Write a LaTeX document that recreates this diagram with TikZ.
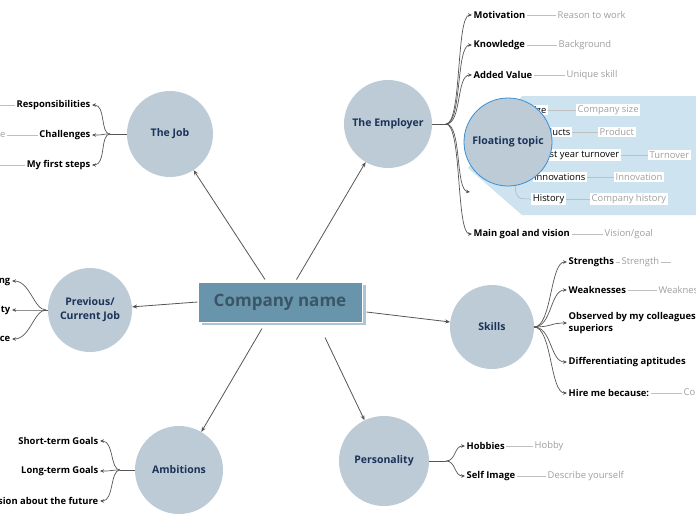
\documentclass[tikz,border=0pt]{standalone}
\usepackage{fontspec}
\setmainfont{Open Sans}
\usetikzlibrary{arrows.meta}
\definecolor{topicfill}{HTML}{BCCBD6}
\definecolor{topictext}{HTML}{1B3358}
\definecolor{centerfill}{HTML}{6895AC}
\definecolor{centertext}{HTML}{3A5566}
\definecolor{floatbg}{HTML}{CDE3EF}
\definecolor{floatline}{HTML}{3A8FD4}
\definecolor{linkgray}{HTML}{555555}
\tikzset{
  topic/.style={circle, fill=topicfill, minimum size=88pt, inner sep=0pt, align=center,
    text=topictext, font=\fontsize{10.5}{14}\selectfont\bfseries},
  subtopic/.style={inner sep=1.5pt, font=\fontsize{9.4}{11.5}\selectfont\bfseries, align=left},
  detail/.style={inner sep=1.5pt, fill=white, text=gray!75, font=\fontsize{9.4}{11.5}\selectfont},
  link/.style={draw=linkgray, line width=0.8pt, -{Stealth[length=5pt,width=4pt]}},
  branch/.style={draw=linkgray, line width=0.7pt, -{Stealth[length=4pt,width=3.5pt]}},
  note/.style={draw=gray!50, line width=0.6pt}
}
\begin{document}
\begin{tikzpicture}[x=1pt,y=-1pt]
    \useasboundingbox (0,0) rectangle (696,520);
    \clip (0,0) rectangle (696,520);

    % -- Main topics
    \fill[centerfill!55] (202,285) rectangle (366,325);
    \node[fill=centerfill, draw=white, line width=1pt, minimum width=164pt, minimum height=40pt,
      text=centertext, font=\fontsize{17}{20}\selectfont\bfseries] (C) at (280,302) {Company name};
    \node[topic] (E) at (388,124) {The Employer};
    \node[topic, minimum size=86pt] (J) at (170,134) {The Job};
    \node[topic, minimum size=84pt] (P) at (90,310) {Previous/\\Current Job};
    \node[topic, minimum size=84pt] (S) at (492,327) {Skills};
    \node[topic, minimum size=90pt] (Y) at (384,461) {Personality};
    \node[topic] (A) at (179,470) {Ambitions};

    \draw[link] (C.north east) ++(-66,-2) coordinate (c1) (c1) -- (E);
    \draw[link] (C.north) ++(-15,-2) coordinate (c2) (c2) -- (J);
    \draw[link] (C.west) -- (P);
    \draw[link] (C.east) ++(4,10) coordinate (c3) (c3) -- (S);
    \draw[link] (C.south) ++(45,15) coordinate (c4) (c4) -- (Y);
    \draw[link] (C.south) ++(-18,6) coordinate (c5) (c5) -- (A);

    % -- The Employer
    \coordinate (ej) at (446,124);
    \draw[draw=linkgray, line width=1pt] (E.east) -- (ej);
    \foreach \n/\t/\y/\d/\dx in {m/Motivation/15/Reason to work/556, k/Knowledge/45/Background/557,
        a/Added Value/75/Unique skill/565, g/Main goal and vision/234/Vision\slash goal/603} {
      \node[subtopic, anchor=west] (e\n) at (472,\y) {\t};
      \node[detail, anchor=west] (ed\n) at (\dx,\y) {\d};
      \draw[note] (e\n) -- (ed\n);
      \draw[branch] (ej) .. controls (462,124) and (456,\y) .. (e\n.west);
    }
    \draw[branch] (ej) .. controls (462,124) and (455,190) .. (470,192);

    % -- Floating topic
    \fill[floatbg] (522,96) -- (696,96) -- (696,215) -- (522,215) -- (468,168) -- cycle;
    \foreach \n/\t/\xe/\y/\d/\dx in {a/Size/548/110/Company size/576, b/Products/572/132/Product/598,
        c/Last year turnover/621/155/Turnover/648, d/Innovations/587/177/Innovation/614,
        e/History/566/199/Company history/590} {
      \node[subtopic, fill=white, font=\fontsize{9.4}{11.5}\selectfont, anchor=east] (f\n) at (\xe,\y) {\t};
      \node[detail, anchor=west] (fd\n) at (\dx,\y) {\d};
      \draw[note] (f\n) -- (fd\n);
    }
    \draw[gray!60, line width=0.5pt] (515,170) .. controls (515,199) .. (fe.west);
    \node[topic, draw=floatline, line width=0.8pt] (F) at (508,142) {Floating topic};

    % -- The Job
    \coordinate (jj) at (110,134);
    \draw[draw=linkgray, line width=1pt] (J.west) -- (jj);
    \foreach \n/\t/\y in {r/Responsibilities/105, c/Challenges/135, f/My first steps/165} {
      \node[subtopic, anchor=east] (j\n) at (92,\y) {\t};
      \draw[note] (j\n.west) -- ++(-40,0);
      \draw[branch] (jj) .. controls (100,134) and (106,\y) .. (j\n.east);
    }
    \node[detail, anchor=east] at (7,135) {Challenge};

    % -- Previous/Current Job
    \coordinate (pj) at (46,310);
    \draw[draw=linkgray, line width=1pt] (P.west) -- (pj);
    \foreach \n/\t/\y in {a/Training/281, b/Responsibility/310, c/Experience/339} {
      \node[subtopic, anchor=east] (p\n) at (12,\y) {\t};
      \draw[branch] (pj) .. controls (34,310) and (30,\y) .. (p\n.east);
    }

    % -- Skills
    \coordinate (sj) at (534,327);
    \draw[draw=linkgray, line width=1pt] (S.east) -- (sj);
    \foreach \n/\t/\y in {s/Strengths/262, w/Weaknesses/290, o/Observed by my colleagues and\\superiors/323,
        d/Differentiating aptitudes/362, h/Hire me because:/393} {
      \node[subtopic, anchor=west] (s\n) at (567,\y) {\t};
      \draw[branch] (sj) .. controls (552,327) and (550,\y) .. (s\n.west);
    }
    \node[detail, anchor=west] (sds) at (620,262) {Strength};
    \node[detail, anchor=west] (sdw) at (657,290) {Weakness};
    \node[detail, anchor=west] (sdh) at (682,393) {Company};
    \draw[note] (ss) -- (sds);
    \draw[note] (sw) -- (sdw);
    \draw[note] (sh) -- (sdh);
    \draw[note] (sds.east) -- ++(10,0);

    % -- Personality
    \coordinate (yj) at (446,461);
    \draw[draw=linkgray, line width=1pt] (Y.east) -- (yj);
    \foreach \n/\t/\y/\d/\dx in {h/Hobbies/446/Hobby/533, s/Self Image/476/Describe yourself/546} {
      \node[subtopic, anchor=west] (y\n) at (465,\y) {\t};
      \node[detail, anchor=west] (yd\n) at (\dx,\y) {\d};
      \draw[note] (y\n) -- (yd\n);
      \draw[branch] (yj) .. controls (456,461) and (454,\y) .. (y\n.west);
    }

    % -- Ambitions
    \coordinate (aj) at (120,470);
    \draw[draw=linkgray, line width=1pt] (A.west) -- (aj);
    \foreach \n/\t/\y in {s/Short-term Goals/441, l/Long-term Goals/471, v/Vision about the future/501} {
      \node[subtopic, anchor=east] (a\n) at (100,\y) {\t};
      \draw[branch] (aj) .. controls (110,470) and (114,\y) .. (a\n.east);
    }
\end{tikzpicture}
\end{document}
